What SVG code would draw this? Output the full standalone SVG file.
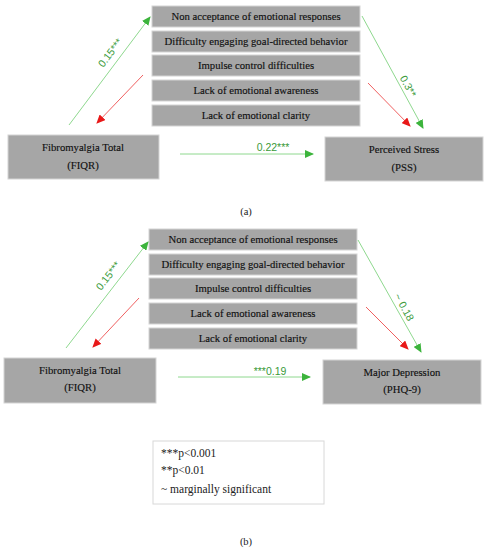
<svg xmlns="http://www.w3.org/2000/svg" width="487" height="550" viewBox="0 0 487 550">
<style>
.box{fill:#a6a6a6;stroke:#d4d4d4;stroke-width:1}
.t{font-family:"Liberation Serif",serif;font-size:10.7px;fill:#111;stroke:#111;stroke-width:0.15;text-anchor:middle}
.g{stroke:#8ed88e;stroke-width:1;fill:none}
.r{stroke:#f06060;stroke-width:1;fill:none}
.gl{font-family:"Liberation Sans",sans-serif;font-size:10.5px;fill:#3a9a3a;text-anchor:middle}
.cap{font-family:"Liberation Serif",serif;font-size:10.5px;fill:#222;text-anchor:middle}
.leg{font-family:"Liberation Serif",serif;font-size:11.5px;fill:#222}
</style>
<defs>
<marker id="ag" markerUnits="userSpaceOnUse" markerWidth="9" markerHeight="8" refX="8" refY="4" orient="auto"><path d="M0,0 L9,4 L0,8 Z" fill="#3cb43c"/></marker>
<marker id="ar" markerUnits="userSpaceOnUse" markerWidth="9" markerHeight="8" refX="8" refY="4" orient="auto"><path d="M0,0 L9,4 L0,8 Z" fill="#e81818"/></marker>
</defs>

<g id="panel-a">
<g id="a-m1"><rect class="box" x="152" y="6" width="208" height="21"/><text class="t" x="256" y="20">Non acceptance of emotional responses</text></g>
<g id="a-m2"><rect class="box" x="152" y="31" width="208" height="21"/><text class="t" x="256" y="45">Difficulty engaging goal-directed behavior</text></g>
<g id="a-m3"><rect class="box" x="152" y="55" width="208" height="21"/><text class="t" x="256" y="69">Impulse control difficulties</text></g>
<g id="a-m4"><rect class="box" x="152" y="80" width="208" height="21"/><text class="t" x="256" y="94">Lack of emotional awareness</text></g>
<g id="a-m5"><rect class="box" x="152" y="105" width="208" height="21"/><text class="t" x="256" y="119">Lack of emotional clarity</text></g>
<g id="a-fiqr"><rect class="box" x="8" y="135" width="151" height="44"/><text class="t" x="83" y="151">Fibromyalgia Total</text><text class="t" x="83" y="169">(FIQR)</text></g>
<g id="a-pss"><rect class="box" x="325" y="137" width="158" height="44"/><text class="t" x="404" y="153">Perceived Stress</text><text class="t" x="404" y="171">(PSS)</text></g>
<text class="cap" x="246" y="215">(a)</text>
</g>

<g id="panel-b">
<g id="b-m1"><rect class="box" x="149" y="229" width="208" height="21"/><text class="t" x="253" y="243">Non acceptance of emotional responses</text></g>
<g id="b-m2"><rect class="box" x="149" y="254" width="208" height="21"/><text class="t" x="253" y="268">Difficulty engaging goal-directed behavior</text></g>
<g id="b-m3"><rect class="box" x="149" y="278" width="208" height="21"/><text class="t" x="253" y="292">Impulse control difficulties</text></g>
<g id="b-m4"><rect class="box" x="149" y="303" width="208" height="21"/><text class="t" x="253" y="317">Lack of emotional awareness</text></g>
<g id="b-m5"><rect class="box" x="149" y="328" width="208" height="21"/><text class="t" x="253" y="342">Lack of emotional clarity</text></g>
<g id="b-fiqr"><rect class="box" x="4" y="358" width="152" height="45"/><text class="t" x="80" y="374">Fibromyalgia Total</text><text class="t" x="80" y="391">(FIQR)</text></g>
<g id="b-phq"><rect class="box" x="323" y="360" width="158" height="44"/><text class="t" x="402" y="376">Major Depression</text><text class="t" x="402" y="393">(PHQ-9)</text></g>
<g id="legend"><rect x="153" y="441" width="171" height="63" fill="#fff" stroke="#d8d8d8" stroke-width="1"/>
<text class="leg" x="161" y="457">***p&lt;0.001</text>
<text class="leg" x="161" y="474">**p&lt;0.01</text>
<text class="leg" x="161" y="493">~ marginally significant</text></g>
<text class="cap" x="246" y="545">(b)</text>
</g>

<g id="connectors">
<line class="g" x1="69" y1="125" x2="150" y2="17" marker-end="url(#ag)"/>
<line class="r" x1="143" y1="75" x2="97" y2="123" marker-end="url(#ar)"/>
<line class="g" x1="362" y1="16" x2="423" y2="128" marker-end="url(#ag)"/>
<line class="r" x1="368" y1="83" x2="410" y2="126" marker-end="url(#ar)"/>
<line class="g" x1="180" y1="154" x2="313" y2="154" marker-end="url(#ag)"/>
<text class="gl" transform="translate(113,55) rotate(-53)">0.15***</text>
<text class="gl" transform="translate(405,88) rotate(61)">0.3**</text>
<text class="gl" x="273" y="151">0.22***</text>

<line class="g" x1="66" y1="348" x2="148" y2="242" marker-end="url(#ag)"/>
<line class="r" x1="139" y1="298" x2="93" y2="347" marker-end="url(#ar)"/>
<line class="g" x1="358" y1="240" x2="421" y2="352" marker-end="url(#ag)"/>
<line class="r" x1="366" y1="307" x2="408" y2="349" marker-end="url(#ar)"/>
<line class="g" x1="178" y1="377" x2="310" y2="377" marker-end="url(#ag)"/>
<text class="gl" transform="translate(111,278) rotate(-52)">0.15***</text>
<text class="gl" transform="translate(401,309) rotate(61)">~ 0.18</text>
<text class="gl" x="270" y="375">***0.19</text>
</g>
</svg>
